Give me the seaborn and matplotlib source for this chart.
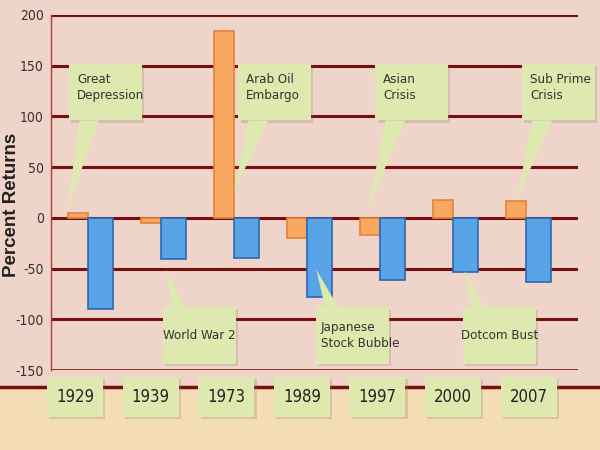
import pandas as pd
import matplotlib.pyplot as plt
import seaborn as sns
from matplotlib.patches import Rectangle, Polygon

# values
years = ['1929', '1939', '1973', '1989', '1997', '2000', '2007']
lead_up = [5, -5, 184, -20, -17, 18, 17]
drawdown = [-90, -41, -40, -78, -61, -53, -63]

# callouts: text, year, tip dx from group centre, tip y, box left (data x), top/bottom
callouts = [
    ('Great\nDepression', '1929', -0.29, 8, -0.26, 'top'),
    ('Arab Oil\nEmbargo', '1973', 0.0, 26, 2.06, 'top'),
    ('Asian\nCrisis', '1997', -0.16, 10, 3.94, 'top'),
    ('Sub Prime\nCrisis', '2007', -0.12, 18, 5.95, 'top'),
    ('World War 2', '1939', 0.07, -51, 1.03, 'bottom'),
    ('Japanese\nStock Bubble', '1989', 0.13, -51, 3.13, 'bottom'),
    ('Dotcom Bust', '2000', 0.17, -52, 5.14, 'bottom'),
]

PINK = '#EFD4CA'
BEIGE = '#F4DCB5'
GRID = '#7A0E0E'
BOX = '#DDE9AE'
ORANGE, ORANGE_EDGE = '#F9A860', '#E3823A'
BLUE, BLUE_EDGE = '#58A4E6', '#2C68B2'

sns.set_style('white')
plt.rcParams['font.family'] = ['DejaVu Sans']
plt.rcParams['font.stretch'] = 'condensed'
plt.rcParams['axes.unicode_minus'] = False

df = pd.DataFrame({
    'year': years * 2,
    'ret': lead_up + drawdown,
    'series': ['lead_up'] * len(years) + ['drawdown'] * len(years),
})

fig = plt.figure(figsize=(6, 4.5), dpi=100)
fig.patch.set_facecolor(PINK)

# beige strip under the chart with a dark rule on top
fig.patches.append(Rectangle((0, 0), 1, 1 - 389 / 450, transform=fig.transFigure,
                             fc=BEIGE, ec='none', zorder=0))
fig.lines.append(plt.Line2D([0, 1], [1 - 387 / 450] * 2, transform=fig.transFigure,
                            color=GRID, lw=2.5, zorder=1))

ax = fig.add_axes([51 / 600, 1 - 370 / 450, 527 / 600, 355 / 450])
ax.set_facecolor(PINK)

sns.barplot(data=df, x='year', y='ret', hue='series', order=years,
            hue_order=['lead_up', 'drawdown'], palette=[ORANGE, BLUE],
            saturation=1, width=0.617, errorbar=None, legend=False, ax=ax, zorder=3)

# orange bars a bit narrower than the blue ones
for bar in ax.containers[0]:
    right = bar.get_x() + bar.get_width()
    bar.set_width(0.274)
    bar.set_x(right - 0.274)
    bar.set_edgecolor(ORANGE_EDGE)
    bar.set_linewidth(1.2)
for bar in ax.containers[1]:
    bar.set_width(0.343)
    bar.set_edgecolor(BLUE_EDGE)
    bar.set_linewidth(1.2)

ax.set_xlim(-0.51, 6.72)
ax.set_ylim(-150, 200)
ax.set_yticks(range(-150, 201, 50))
ax.tick_params(axis='y', length=0, pad=5, labelsize=10, labelcolor='#333333')
ax.set_xticks([])
ax.set_xlabel('')
ax.set_ylabel('')

for v in range(-100, 201, 50):
    ax.axhline(v, color=GRID, lw=2.2, zorder=1)
ax.axhline(-150, color=GRID, lw=1.2, zorder=1)

for side in ['top', 'right', 'bottom']:
    ax.spines[side].set_visible(False)
ax.spines['left'].set_color('#B23A3A')
ax.spines['left'].set_linewidth(1)

# callout boxes with wedge pointers
box_w, box_h = 1.0, 56
for text, year, dx, tip_y, x0, side in callouts:
    tip_x = years.index(year) + dx
    if side == 'top':
        y0 = 96
        base_y = y0
        bx0, bx1 = x0 + 0.14, x0 + 0.41
    else:
        y0 = -144
        base_y = y0 + box_h
        bx0, bx1 = x0 + 0.12, x0 + 0.30
    ax.add_patch(Rectangle((x0 + 0.03, y0 - 2.5), box_w, box_h, fc='#8a7a70',
                           alpha=0.25, ec='none', zorder=4, clip_on=False))
    ax.add_patch(Polygon([(bx0, base_y), (tip_x, tip_y), (bx1, base_y)],
                         closed=True, fc=BOX, ec='none', zorder=5, clip_on=False))
    ax.add_patch(Rectangle((x0, y0), box_w, box_h, fc=BOX, ec='none',
                           zorder=5, clip_on=False))
    if side == 'top':
        ax.text(x0 + 0.11, y0 + box_h - 9, text, ha='left', va='top',
                fontsize=9.5, color='#333333', linespacing=1.3, zorder=6)
    elif '\n' in text:
        ax.text(x0 + 0.06, y0 + box_h / 2, text, ha='left', va='center',
                fontsize=9.5, color='#333333', linespacing=1.3, zorder=6)
    else:
        ax.text(x0 + box_w / 2, y0 + box_h / 2, text, ha='center', va='center',
                fontsize=9.5, color='#333333', zorder=6)

# year labels in green boxes below the chart
for i, yr in enumerate(years):
    cx = (75 + 75.6 * i) / 600
    w, h = 56 / 600, 40 / 450
    y0 = 1 - 417 / 450
    fig.patches.append(Rectangle((cx - w / 2 + 0.004, y0 - 0.005), w, h,
                                 transform=fig.transFigure, fc='#8a7a70',
                                 alpha=0.25, ec='none', zorder=2))
    fig.patches.append(Rectangle((cx - w / 2, y0), w, h, transform=fig.transFigure,
                                 fc=BOX, ec='none', zorder=3))
    fig.text(cx, y0 + h / 2, yr, ha='center', va='center', fontsize=12,
             color='#222222', zorder=4)

fig.text(12 / 600, 1 - 205 / 450, 'Percent Returns', rotation=90, ha='center',
         va='center', fontsize=13.5, fontweight='bold', color='#222222',
         fontstretch='normal', family=['Liberation Sans', 'DejaVu Sans'])

fig.savefig('out.png', dpi=100, facecolor=fig.get_facecolor())
